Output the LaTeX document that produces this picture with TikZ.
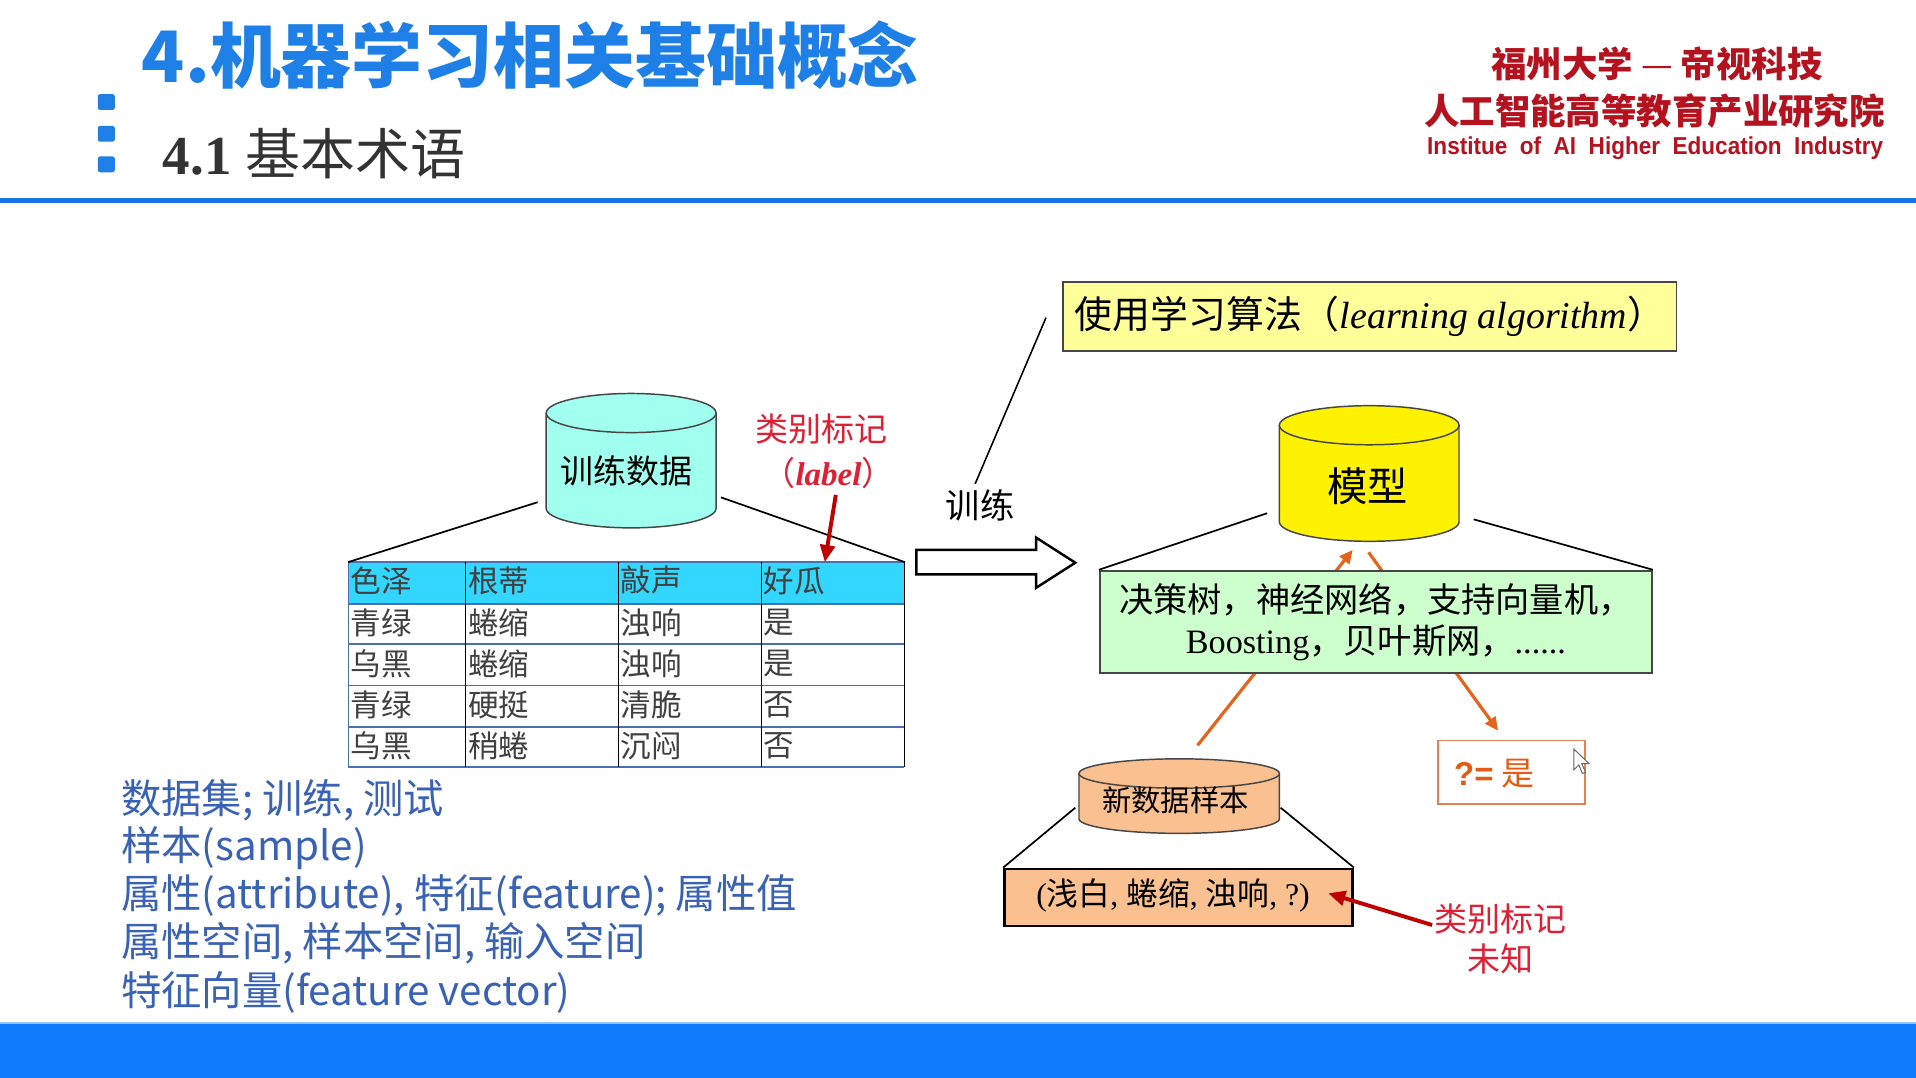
\documentclass[tikz,border=0pt]{standalone}
\usepackage{fontspec}
\usepackage{graphicx}
\setmainfont{Liberation Serif}
\newfontfamily\cjk{Noto Sans CJK SC}
\newfontfamily\arialf{Liberation Sans}
\usetikzlibrary{arrows.meta}
\newcommand\myfs[1]{\fontsize{#1}{#1}\selectfont}
\definecolor{titleblue}{RGB}{30,127,230}
\definecolor{linebl}{RGB}{27,116,228}
\definecolor{barblue}{RGB}{15,123,250}
\definecolor{hdrred}{RGB}{180,18,30}
\definecolor{aqua}{RGB}{160,255,238}
\definecolor{hdrcyan}{RGB}{51,214,255}
\definecolor{tblline}{RGB}{74,112,176}
\definecolor{lyellow}{RGB}{255,255,153}
\definecolor{lgreen}{RGB}{204,255,204}
\definecolor{sandy}{RGB}{250,192,143}
\definecolor{oarrow}{RGB}{228,100,30}
\definecolor{darkred}{RGB}{192,0,0}
\definecolor{labred}{RGB}{222,32,52}
\definecolor{textblue}{RGB}{58,98,180}
\definecolor{cylline}{RGB}{70,70,70}
\definecolor{subgray}{RGB}{51,51,51}
\newcommand\mycyl[6]{%
  \filldraw[fill=#6, draw=cylline, line width=1.2pt] (#1-#4,#2) -- plot[domain=180:0,samples=60] ({#1+#4*cos(\x)},{#3+#5*sin(\x)}) -- (#1+#4,#2);
  \filldraw[fill=#6, draw=cylline, line width=1.2pt] (#1,#2) ellipse[x radius=#4, y radius=#5];
}
\begin{document}
\begin{tikzpicture}[x=1pt,y=-1pt,
  cellt/.style={anchor=west, inner sep=0pt, font=\cjk\myfs{25}},
  conn/.style={draw=black, line width=1.4pt},
  redarrow/.style={draw=darkred, line width=3.2pt, -{Triangle[length=14pt,width=12pt]}},
  orarrow/.style={draw=oarrow, line width=2.6pt, -{Triangle[length=11pt,width=10pt]}},
  listtext/.style={anchor=west, inner sep=0pt, text=textblue, font=\cjk\myfs{33}},
  hdrtext/.style={inner sep=0pt, text=hdrred},
  boxnode/.style={draw=cylline, line width=1.4pt, inner sep=0pt}]
\useasboundingbox (0,0) rectangle (1568,882);
\fill[white] (0,0) rectangle (1568,882);

% ---------- header ----------
\node[anchor=west, inner sep=0pt, text=titleblue, font=\cjk\bfseries\myfs{58}] (title) at (116,45) {4.机器学习相关基础概念};
\foreach \yy in {77,103,128}
  \fill[titleblue, rounded corners=2pt] (80,\yy) rectangle (94,\yy+13);
\node[anchor=west, inner sep=0pt, text=subgray, font=\myfs{45}] (sub) at (133,126) {{\bfseries 4.1} {\cjk 基本术语}};
\node[hdrtext, font=\cjk\bfseries\myfs{29}] (h1) at (1356,52) {福州大学 {\mdseries —} 帝视科技};
\node[hdrtext, font=\cjk\bfseries\myfs{29}] (h2) at (1354,91) {人工智能高等教育产业研究院};
\node[hdrtext] (h3) at (1354.5,121) {\resizebox{373pt}{14.5pt}{\arialf\bfseries Institue\ \ of\ \ AI\ \ Higher\ \ Education\ \ Industry}};
\fill[linebl] (0,162) rectangle (1568,166);
\fill[barblue!45] (0,836.5) rectangle (1568,838);
\fill[barblue] (0,838) rectangle (1568,882);

% ---------- training data ----------
\mycyl{516.5}{338}{416}{69.5}{16}{aqua}
\node[inner sep=0pt, font=\cjk\myfs{27}] (train) at (513,385) {训练数据};
\coordinate (trL) at (440,411);
\coordinate (trR) at (590,407);

\node[anchor=north west, minimum width=455pt, minimum height=168pt, inner sep=0pt] (table) at (285,460) {};
\fill[hdrcyan] (285,460) rectangle (740,494);
\foreach \yy in {460,494,527,561,595,628}
  \draw[tblline, line width=1.5pt] (285,\yy) -- (740,\yy);
\foreach \xx in {285,381,506,623,740}
  \draw[black, line width=1.2pt] (\xx,460) -- (\xx,628);
\draw[tblline, line width=1.2pt] (285,460) -- (285,628);
\foreach \r/\yy/\a/\b/\c/\d in {0/475/色泽/根蒂/敲声/好瓜, 1/509.5/青绿/蜷缩/浊响/是, 2/543/乌黑/蜷缩/浊响/是, 3/577/青绿/硬挺/清脆/否, 4/610.5/乌黑/稍蜷/沉闷/否}{
  \node[cellt, text=black!75] (c\r a) at (287,\yy) {\a};
  \node[cellt, text=black!75] (c\r b) at (383,\yy) {\b};
  \node[cellt, text=black!75] (c\r c) at (508,\yy) {\c};
  \node[cellt, text=black!75] (c\r d) at (625,\yy) {\d};
}
\draw[conn] (trL) -- (table.north west);
\draw[conn] (trR) -- (table.north east);

\node[inner sep=0pt, text=labred, font=\cjk\myfs{27}] (lab1) at (672,351) {类别标记};
\node[inner sep=0pt, text=labred, font=\myfs{27}] (lab2) at (678,387) {{\cjk （}\textbf{\textit{label}}{\cjk ）}};
\coordinate (labA) at (684,405);
\coordinate (labB) at (675,460);
\draw[redarrow] (labA) -- (labB);

% ---------- training arrow ----------
\filldraw[fill=white, draw=black, line width=2pt] (750,450) -- (848,450) -- (848,440) -- (880,460.5) -- (848,481) -- (848,470) -- (750,470) -- cycle;
\node[inner sep=0pt, font=\cjk\myfs{28}] (trainlbl) at (802,414) {训练};
\coordinate (tlA) at (798,396);
\coordinate (tlB) at (856,260);
\draw[black, line width=1.3pt] (tlA) -- (tlB);

\node[boxnode, fill=lyellow, minimum width=502pt, minimum height=56pt, font=\myfs{31}] (algo) at (1121,259) {{\cjk 使用学习算法（}\textit{learning algorithm}{\cjk ）}};

% ---------- model ----------
\mycyl{1120.5}{348}{427}{73.5}{16}{yellow}
\node[inner sep=0pt, font=\cjk\myfs{33}] (model) at (1119,398) {模型};
\coordinate (mdL) at (1037,420);
\coordinate (mdR) at (1206,425);
\coordinate (mdIn) at (1107,450);
\coordinate (mdOut) at (1120,452);

% ---------- new sample ----------
\mycyl{965}{633}{670}{82}{12}{sandy}
\node[inner sep=0pt, font=\cjk\myfs{24}] (newsample) at (962,655) {新数据样本};
\coordinate (nsTop) at (980,610);
\coordinate (nsL) at (880,661);
\coordinate (nsR) at (1048,661);
\node[draw=black, line width=2pt, fill=sandy, minimum width=285pt, minimum height=47pt, inner sep=0pt] (sample) at (964.5,734.5) {};
\node[inner sep=0pt, font=\myfs{26}] (sampletext) at (960,733) {({\cjk 浅白}, {\cjk 蜷缩}, {\cjk 浊响}, ?)};
\draw[conn] (nsL) -- (sample.north west);
\draw[conn] (nsR) -- (sample.north east);

% ---------- result ----------
\node[draw={rgb,255:red,225;green,130;blue,80}, line width=1.4pt, fill=white, minimum width=120pt, minimum height=52pt, inner sep=0pt] (result) at (1237,632) {};
\node[inner sep=0pt, text={rgb,255:red,230;green,90;blue,20}, font=\myfs{27}] (resulttext) at (1223,633) {{\arialf\bfseries ?=} {\cjk 是}};
\coordinate (resIn) at (1226,598);
\filldraw[fill=white, draw=black!60, line width=0.8pt] (1288,613) -- ++(0,17) -- ++(4,-4) -- ++(3,7) -- ++(2.5,-1) -- ++(-3,-7) -- ++(6,0) -- cycle;

% orange arrows (behind green box)
\draw[orarrow] (nsTop) -- (mdIn);
\draw[orarrow] (mdOut) -- (resIn);

% ---------- algorithms box ----------
\node[boxnode, fill=lgreen, minimum width=452pt, minimum height=84pt, align=center, font=\fontsize{28}{33}\selectfont] (algos) at (1126,509) {{\cjk 决策树，神经网络，支持向量机，}\\Boosting{\cjk ，贝叶斯网，}......};
\draw[conn] (mdL) -- (algos.north west);
\draw[conn] (mdR) -- (algos.north east);

% ---------- unknown label ----------
\node[inner sep=0pt, text=labred, font=\cjk\myfs{27}] (unk1) at (1228,752) {类别标记};
\node[inner sep=0pt, text=labred, font=\cjk\myfs{27}] (unk2) at (1228,785) {未知};
\coordinate (unkA) at (1172,757);
\coordinate (unkB) at (1087,731);
\draw[redarrow] (unkA) -- (unkB);

% ---------- term list ----------
\node[listtext] (t1) at (99,655) {数据集; 训练, 测试};
\node[listtext] (t2) at (99,694) {样本(sample)};
\node[listtext] (t3) at (99,733) {属性(attribute), 特征(feature); 属性值};
\node[listtext] (t4) at (99,772) {属性空间, 样本空间, 输入空间};
\node[listtext] (t5) at (99,812) {特征向量(feature vector)};
\end{tikzpicture}
\end{document}
